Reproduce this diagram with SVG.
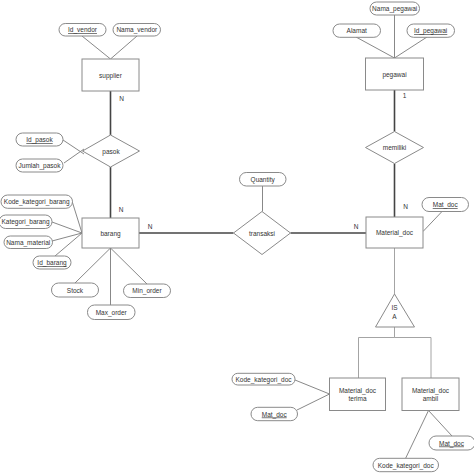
<svg xmlns="http://www.w3.org/2000/svg" width="474" height="474" viewBox="0 0 474 474">
<style>
.bg{fill:#fff}
.ent{fill:#fff;stroke:#8a8a8a;stroke-width:1}
.att{fill:#fff;stroke:#8a8a8a;stroke-width:1}
.rel{fill:#fff;stroke:#8a8a8a;stroke-width:1}
.t{font-family:"Liberation Sans",Arial,sans-serif;font-size:6.5px;fill:#333;text-anchor:middle;dominant-baseline:central}
.u{text-decoration:underline}
.lk{stroke:#444;stroke-width:1.6;fill:none}
.al{stroke:#7a7a7a;stroke-width:0.9;fill:none}
.il{stroke:#9a9a9a;stroke-width:0.9;fill:none}
</style>
<rect class="bg" x="0" y="0" width="474" height="474"/>
<g id="connectors">
<line class="lk" x1="110.5" y1="91" x2="110.5" y2="135"/>
<line class="lk" x1="110.5" y1="167" x2="110.5" y2="218"/>
<line class="lk" x1="139" y1="233" x2="233.5" y2="233"/>
<line class="lk" x1="290.5" y1="233" x2="366" y2="233"/>
<line class="lk" x1="394.5" y1="90" x2="394.5" y2="131.5"/>
<line class="lk" x1="394.5" y1="163.5" x2="394.5" y2="217"/>
<line class="al" x1="82" y1="36" x2="110.5" y2="59"/>
<line class="al" x1="137" y1="36" x2="110.5" y2="59"/>
<line class="al" x1="63" y1="140" x2="84" y2="154"/>
<line class="al" x1="64" y1="163" x2="84" y2="149"/>
<line class="al" x1="72" y1="201" x2="82" y2="233"/>
<line class="al" x1="52" y1="222" x2="82" y2="233"/>
<line class="al" x1="52" y1="241" x2="82" y2="233"/>
<line class="al" x1="55" y1="256" x2="82" y2="233"/>
<line class="al" x1="110.5" y1="248" x2="75" y2="283"/>
<line class="al" x1="110.5" y1="248" x2="110.5" y2="305"/>
<line class="al" x1="110.5" y1="248" x2="147" y2="284"/>
<line class="al" x1="262.5" y1="186" x2="262.5" y2="211.5"/>
<line class="al" x1="356" y1="37" x2="394.5" y2="58"/>
<line class="al" x1="394.5" y1="15" x2="394.5" y2="58"/>
<line class="al" x1="427" y1="37" x2="394.5" y2="58"/>
<line class="al" x1="442" y1="211.5" x2="423" y2="231.5"/>
<line class="il" x1="394.5" y1="248" x2="394.5" y2="294"/>
<polyline class="il" points="394.5,327 394.5,337.5 358.5,337.5 358.5,378"/>
<polyline class="il" points="394.5,337.5 431,337.5 431,378"/>
<line class="al" x1="295" y1="380" x2="329.5" y2="394"/>
<line class="al" x1="297" y1="410" x2="329.5" y2="394"/>
<line class="al" x1="428.5" y1="410.5" x2="405.5" y2="458.5"/>
<line class="al" x1="428.5" y1="410.5" x2="452" y2="436"/>
<text class="t" x="121.5" y="98">N</text>
<text class="t" x="121" y="209.5">N</text>
<text class="t" x="150" y="226">N</text>
<text class="t" x="356" y="226.5">N</text>
<text class="t" x="405.5" y="206.5">N</text>
<text class="t" x="404.5" y="95">1</text>
</g>
<g id="supplier">
<rect class="ent" x="82" y="59" width="57" height="32"/>
<text class="t" x="110.5" y="75">supplier</text>
</g>
<g id="id_vendor">
<rect class="att" x="59" y="23.5" width="47" height="12.5" rx="6.25"/>
<text class="t u" x="82.5" y="29.8">Id_vendor</text>
</g>
<g id="nama_vendor">
<rect class="att" x="113" y="23.5" width="47.5" height="12.5" rx="6.25"/>
<text class="t" x="136.8" y="29.8">Nama_vendor</text>
</g>
<g id="pasok">
<polygon class="rel" points="110.5,135 139.5,151 110.5,167 82.5,151"/>
<text class="t" x="111" y="151">pasok</text>
</g>
<g id="id_pasok">
<rect class="att" x="16" y="133" width="47" height="13" rx="6.5"/>
<text class="t u" x="39.5" y="139.5">Id_pasok</text>
</g>
<g id="jumlah_pasok">
<rect class="att" x="16" y="159" width="47" height="13" rx="6.5"/>
<text class="t" x="39.5" y="165.5">Jumlah_pasok</text>
</g>
<g id="barang">
<rect class="ent" x="82" y="218" width="57" height="30"/>
<text class="t" x="110.5" y="233">barang</text>
</g>
<g id="kode_kategori_barang">
<rect class="att" x="1" y="195" width="71.5" height="13.3" rx="6.6"/>
<text class="t" x="36.7" y="201.7">Kode_kategori_barang</text>
</g>
<g id="kategori_barang">
<rect class="att" x="-1" y="215" width="53" height="13.5" rx="6.7"/>
<text class="t" x="25.5" y="221.8">Kategori_barang</text>
</g>
<g id="nama_material">
<rect class="att" x="4" y="236" width="48.5" height="12.5" rx="6.25"/>
<text class="t" x="28.2" y="242.2">Nama_material</text>
</g>
<g id="id_barang">
<rect class="att" x="33" y="256" width="38" height="13" rx="6.5"/>
<text class="t u" x="52" y="262.5">Id_barang</text>
</g>
<g id="stock">
<rect class="att" x="51.5" y="283" width="47" height="14" rx="7"/>
<text class="t" x="75" y="290">Stock</text>
</g>
<g id="max_order">
<rect class="att" x="87.5" y="305" width="47.5" height="14.5" rx="7"/>
<text class="t" x="111.2" y="312.3">Max_order</text>
</g>
<g id="min_order">
<rect class="att" x="123.5" y="284" width="47" height="13.5" rx="6.75"/>
<text class="t" x="147" y="290.7">Min_order</text>
</g>
<g id="transaksi">
<polygon class="rel" points="262,211.5 290.5,233 262,254.5 233.5,233"/>
<text class="t" x="262" y="233">transaksi</text>
</g>
<g id="quantity">
<rect class="att" x="239.5" y="172.5" width="46.5" height="13.5" rx="6.75"/>
<text class="t" x="262.7" y="179.3">Quantity</text>
</g>
<g id="pegawai">
<rect class="ent" x="365.5" y="58" width="58" height="32"/>
<text class="t" x="394.5" y="74.5">pegawai</text>
</g>
<g id="nama_pegawai">
<rect class="att" x="370" y="2" width="49.5" height="13" rx="6.5"/>
<text class="t" x="394.7" y="8.5">Nama_pegawai</text>
</g>
<g id="alamat">
<rect class="att" x="333" y="24" width="47.5" height="13.3" rx="6.6"/>
<text class="t" x="356.7" y="30.7">Alamat</text>
</g>
<g id="id_pegawai">
<rect class="att" x="407" y="24" width="47.5" height="13.3" rx="6.6"/>
<text class="t u" x="430.7" y="30.7">Id_pegawai</text>
</g>
<g id="memiliki">
<polygon class="rel" points="394.5,131.5 423.5,147.5 394.5,163.5 365.5,147.5"/>
<text class="t" x="394.5" y="147.5">memiliki</text>
</g>
<g id="material_doc">
<rect class="ent" x="366" y="217" width="57" height="31"/>
<text class="t" x="394.5" y="232.8">Material_doc</text>
</g>
<g id="mat_doc_1">
<rect class="att" x="422" y="197.5" width="46.5" height="14" rx="7"/>
<text class="t u" x="445.2" y="204.5">Mat_doc</text>
</g>
<g id="isa">
<polygon class="rel" points="394.5,294 414.5,327 375.5,327"/>
<text class="t" x="394.5" y="307.5">IS</text>
<text class="t" x="394.5" y="316.5">A</text>
</g>
<g id="material_doc_terima">
<rect class="ent" x="329.5" y="378" width="56" height="32.5"/>
<text class="t" x="357.5" y="390">Material_doc</text>
<text class="t" x="357.5" y="398.5">terima</text>
</g>
<g id="material_doc_ambil">
<rect class="ent" x="402" y="378" width="57" height="32.5"/>
<text class="t" x="430.5" y="390">Material_doc</text>
<text class="t" x="430.5" y="398.5">ambil</text>
</g>
<g id="kode_kategori_doc_1">
<rect class="att" x="232" y="373.3" width="63" height="11.7" rx="5.8"/>
<text class="t" x="263.5" y="379.2">Kode_kategori_doc</text>
</g>
<g id="mat_doc_2">
<rect class="att" x="251" y="407.3" width="46.5" height="13.4" rx="6.7"/>
<text class="t u" x="274.2" y="414">Mat_doc</text>
</g>
<g id="mat_doc_3">
<rect class="att" x="429" y="436" width="46" height="14" rx="7"/>
<text class="t u" x="451.5" y="443">Mat_doc</text>
</g>
<g id="kode_kategori_doc_2">
<rect class="att" x="373" y="458.3" width="65.5" height="13.4" rx="6.7"/>
<text class="t" x="405.7" y="465">Kode_kategori_doc</text>
</g>
</svg>
